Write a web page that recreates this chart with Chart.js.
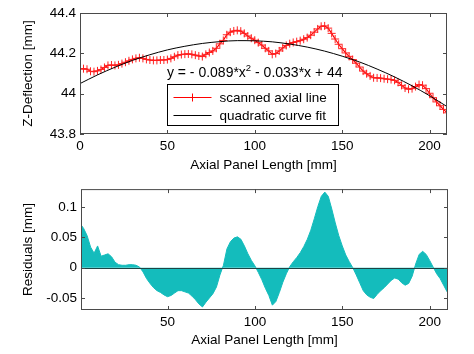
<!DOCTYPE html>
<html><head><meta charset="utf-8">
<script src="https://cdn.jsdelivr.net/npm/chart.js@4.4.0/dist/chart.umd.min.js"></script>
<style>
html,body{margin:0;padding:0;background:#fff;}
#wrap{position:relative;width:474px;height:354px;overflow:hidden;}
.box{position:absolute;left:0;width:474px;height:177px;}
</style></head><body>
<div id="wrap">
<div class="box" style="top:0"><canvas id="c1" width="474" height="177"></canvas></div>
<div class="box" style="top:177px"><canvas id="c2" width="474" height="177"></canvas></div>
</div>
<script>
// ---- data ----
const positions = [0,2,4,6,8,10,12,14,16,18,20,22,24,26,28,30,32,34,36,38,40,42,44,46,48,50,52,54,56,58,60,62,64,66,68,70,72,74,76,78,80,82,84,86,88,90,92,94,96,98,100,102,104,106,108,110,112,114,116,118,120,122,124,126,128,130,132,134,136,138,140,142,144,146,148,150,152,154,156,158,160,162,164,166,168,170,172,174,176,178,180,182,184,186,188,190,192,194,196,198,200,202,204,206,208,210];
const scannedZ = [44.123,44.124,44.121,44.111,44.109,44.113,44.120,44.130,44.140,44.142,44.140,44.143,44.149,44.156,44.163,44.170,44.175,44.178,44.175,44.170,44.167,44.165,44.165,44.167,44.167,44.169,44.175,44.183,44.191,44.194,44.196,44.197,44.195,44.191,44.187,44.184,44.195,44.204,44.212,44.225,44.247,44.264,44.292,44.305,44.311,44.314,44.310,44.299,44.286,44.275,44.265,44.253,44.241,44.225,44.212,44.195,44.199,44.212,44.227,44.239,44.248,44.254,44.258,44.263,44.270,44.278,44.290,44.305,44.321,44.334,44.336,44.325,44.299,44.271,44.245,44.223,44.202,44.185,44.169,44.151,44.132,44.112,44.099,44.088,44.079,44.078,44.077,44.074,44.072,44.070,44.066,44.056,44.041,44.028,44.022,44.025,44.035,44.045,44.042,44.025,44.002,43.980,43.959,43.940,43.922,43.905];
const fitPositions = [0,10,20,30,40,50,60,70,80,90,100,110,120,130,140,150,160,170,180,190,200,210];
const fitZ = [44.050,44.093,44.131,44.165,44.193,44.217,44.235,44.249,44.258,44.263,44.262,44.257,44.246,44.231,44.211,44.186,44.157,44.122,44.083,44.039,43.990,43.936];
const residuals = [0.073,0.065,0.053,0.034,0.024,0.036,0.019,0.021,0.023,0.018,0.009,0.005,0.004,0.004,0.005,0.005,0.004,0.001,-0.007,-0.018,-0.026,-0.033,-0.038,-0.041,-0.045,-0.048,-0.046,-0.042,-0.038,-0.038,-0.040,-0.042,-0.047,-0.053,-0.060,-0.065,-0.057,-0.050,-0.043,-0.032,-0.012,0.004,0.031,0.043,0.049,0.051,0.047,0.036,0.023,0.012,0.003,-0.008,-0.020,-0.034,-0.046,-0.062,-0.056,-0.041,-0.024,-0.010,0.002,0.010,0.017,0.025,0.035,0.047,0.062,0.081,0.101,0.118,0.125,0.118,0.097,0.074,0.053,0.036,0.021,0.010,0.000,-0.012,-0.025,-0.038,-0.045,-0.049,-0.051,-0.044,-0.038,-0.033,-0.027,-0.021,-0.017,-0.019,-0.025,-0.029,-0.026,-0.014,0.006,0.022,0.027,0.022,0.012,0.001,-0.010,-0.018,-0.029,-0.040];
const topXTicks = [0,50,100,150,200];
const topYTicks = [43.8,44,44.2,44.4];
const botXTicks = [50,100,150,200];
const botYTicks = [-0.05,0,0.05,0.1];
const legendLabels = ['scanned axial line','quadratic curve fit'];
const eqParts = ['y = - 0.089*x','2',' - 0.033*x + 44'];
const xTitle = 'Axial Panel Length [mm]';
const yTitleTop = 'Z-Deflection [mm]';
const yTitleBot = 'Residuals [mm]';

// ---- styling ----
const FAM = '"Liberation Sans", Arial, Helvetica, sans-serif';
const font = {family: FAM, size: 13.5};
const FRAME = '#4a4a4a';
const fmt = v => String(parseFloat(Number(v).toFixed(3)));
const setTicks = arr => s => { s.ticks = arr.map(v => ({value: v})); };

function axis(min, max, ticks, extra) {
  return Object.assign({
    type: 'linear', min, max,
    afterBuildTicks: setTicks(ticks),
    grid: {display: false, drawTicks: false},
    border: {display: false},
    ticks: {color: '#000', font, padding: 4, maxRotation: 0, autoSkip: false, callback: fmt}
  }, extra);
}

function framePlugin(zeroLine) {
  return {
    id: 'frame',
    afterDatasetsDraw(chart) {
      const {ctx, chartArea: a, scales: {x, y}} = chart;
      ctx.save();
      if (zeroLine) {
        const py = Math.round(y.getPixelForValue(0)) + 0.5;
        ctx.strokeStyle = '#1e4444'; ctx.lineWidth = 1;
        ctx.beginPath(); ctx.moveTo(a.left, py); ctx.lineTo(a.right, py); ctx.stroke();
      }
      ctx.strokeStyle = FRAME; ctx.lineWidth = 1;
      ctx.strokeRect(a.left + 0.5, a.top + 0.5, a.right - a.left - 1, a.bottom - a.top - 1);
      const tl = 4;
      ctx.beginPath();
      x.ticks.forEach(t => {
        const px = Math.round(x.getPixelForValue(t.value)) + 0.5;
        ctx.moveTo(px, a.bottom); ctx.lineTo(px, a.bottom - tl);
        ctx.moveTo(px, a.top); ctx.lineTo(px, a.top + tl);
      });
      y.ticks.forEach(t => {
        const py = Math.round(y.getPixelForValue(t.value)) + 0.5;
        ctx.moveTo(a.left, py); ctx.lineTo(a.left + tl, py);
        ctx.moveTo(a.right, py); ctx.lineTo(a.right - tl, py);
      });
      ctx.stroke();
      ctx.restore();
    }
  };
}

const topAnnot = {
  id: 'topAnnot',
  afterDraw(chart) {
    const {ctx, scales: {x, y}} = chart;
    ctx.save();
    // equation text anchored in data space
    let ex = x.getPixelForValue(50) - 0.5;
    const ey = y.getPixelForValue(44.085);
    ctx.fillStyle = '#000';
    ctx.textBaseline = 'alphabetic';
    ctx.font = '14px ' + FAM;
    ctx.fillText(eqParts[0], ex, ey); ex += ctx.measureText(eqParts[0]).width;
    ctx.font = '9.5px ' + FAM;
    ctx.fillText(eqParts[1], ex, ey - 6); ex += ctx.measureText(eqParts[1]).width;
    ctx.font = '14px ' + FAM;
    ctx.fillText(eqParts[2], ex, ey);
    // legend box
    const lx = Math.round(x.getPixelForValue(49.5)) + 0.5;
    const ly = Math.round(y.getPixelForValue(44.05)) + 0.5;
    const lw = 171, lh = 41;
    ctx.fillStyle = '#fff';
    ctx.fillRect(lx, ly, lw, lh);
    ctx.strokeStyle = '#000'; ctx.lineWidth = 1;
    ctx.strokeRect(lx, ly, lw, lh);
    ctx.font = '13.5px ' + FAM;
    ctx.textBaseline = 'middle';
    chart.data.datasets.forEach((ds, i) => {
      const ry = Math.round(ly + 12.5 + i * 18) + 0.5;
      ctx.strokeStyle = ds.borderColor; ctx.lineWidth = 1;
      ctx.beginPath(); ctx.moveTo(lx + 6, ry); ctx.lineTo(lx + 44, ry); ctx.stroke();
      if (ds.pointStyle === 'cross') {
        const cx = lx + 25;
        ctx.beginPath(); ctx.moveTo(cx, ry - 4); ctx.lineTo(cx, ry + 4); ctx.stroke();
      }
      ctx.fillStyle = '#000';
      ctx.fillText(ds.label, lx + 52, ry + 1);
    });
    ctx.restore();
  }
};

new Chart(document.getElementById('c1'), {
  type: 'line',
  data: {datasets: [
    {label: legendLabels[0], data: positions.map((p, i) => ({x: p, y: scannedZ[i]})),
     borderColor: '#ff0000', borderWidth: 1.2, pointStyle: 'cross', pointRadius: 4,
     pointBorderColor: '#ff2020', pointBorderWidth: 1, pointBackgroundColor: '#ff0000', tension: 0, order: 2},
    {label: legendLabels[1], data: fitPositions.map((p, i) => ({x: p, y: fitZ[i]})),
     borderColor: '#000000', borderWidth: 1, pointRadius: 0, cubicInterpolationMode: 'monotone', order: 1}
  ]},
  options: {
    responsive: false, animation: false, events: [],
    layout: {padding: {left: 20, top: 13, right: 27, bottom: 0}},
    plugins: {legend: {display: false}, tooltip: {enabled: false}},
    scales: {
      x: axis(0, 210, topXTicks, {afterFit: s => { s.height = 43; },
        title: {display: true, text: xTitle, color: '#000', font, padding: {top: 0, bottom: 4}}}),
      y: axis(43.8, 44.4, topYTicks, {afterFit: s => { s.width = 60; },
        title: {display: true, text: yTitleTop, color: '#000', font, padding: {top: 0, bottom: 0}}})
    }
  },
  plugins: [framePlugin(false), topAnnot]
});

new Chart(document.getElementById('c2'), {
  type: 'line',
  data: {datasets: [
    {label: 'residuals', data: positions.map((p, i) => ({x: p, y: residuals[i]})),
     fill: 'origin', backgroundColor: '#14bcbc', borderColor: '#14bcbc',
     borderWidth: 1, pointRadius: 0, tension: 0}
  ]},
  options: {
    responsive: false, animation: false, events: [],
    layout: {padding: {left: 20, top: 12, right: 26, bottom: 2}},
    plugins: {legend: {display: false}, tooltip: {enabled: false}},
    scales: {
      x: axis(0.5, 210.5, botXTicks, {afterFit: s => { s.height = 42; },
        title: {display: true, text: xTitle, color: '#000', font, padding: {top: 0, bottom: 4}}}),
      y: axis(-0.07, 0.13, botYTicks, {afterFit: s => { s.width = 61; },
        title: {display: true, text: yTitleBot, color: '#000', font, padding: {top: 0, bottom: 0}}})
    }
  },
  plugins: [framePlugin(true)]
});
</script>
</body></html>
